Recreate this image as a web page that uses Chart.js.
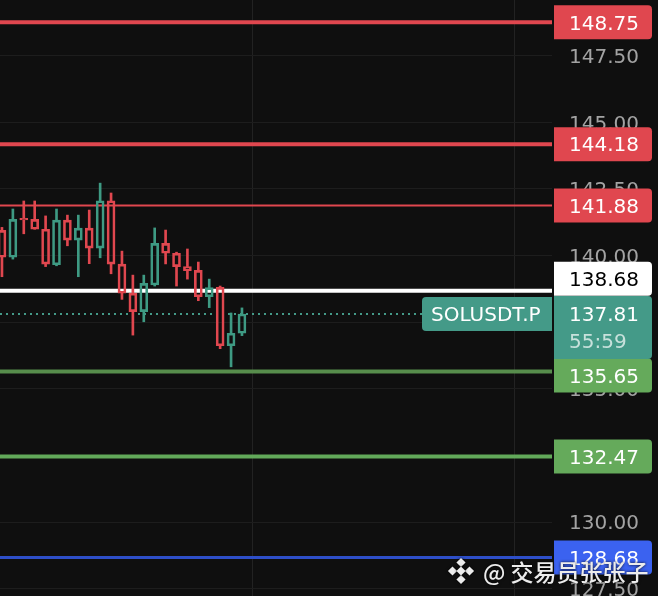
<!DOCTYPE html>
<html>
<head>
<meta charset="utf-8">
<title>SOLUSDT.P</title>
<script src="https://cdn.jsdelivr.net/npm/chart.js@4.4.1/dist/chart.umd.min.js"></script>
<style>
  html, body { margin: 0; padding: 0; background: #0f0f0f; overflow: hidden; }
  #chartBox { width: 658px; height: 596px; }
</style>
</head>
<body>
<div id="chartBox"><canvas id="priceChart" width="658" height="596"></canvas></div>
<script>
// candles, oldest first
const opens  = [140.95, 139.94, 141.40, 141.36, 140.99, 139.66, 141.33, 140.58, 141.03, 140.28, 142.06, 139.68,
                138.59, 137.90, 138.90, 140.46, 140.09, 139.59, 139.45, 138.46, 138.81, 136.62, 137.09];
const highs  = [141.06, 141.75, 142.05, 142.05, 141.49, 141.75, 141.52, 141.52, 141.71, 142.72, 142.35, 140.17,
                139.27, 139.27, 141.04, 140.96, 140.13, 140.25, 139.76, 139.12, 138.86, 137.85, 138.04];
const lows   = [139.21, 139.87, 140.82, 140.99, 139.59, 139.62, 140.37, 139.21, 139.70, 139.92, 139.32, 138.36,
                137.02, 137.52, 138.86, 139.69, 138.86, 139.12, 138.31, 138.05, 136.51, 135.83, 137.00];
const closes = [139.94, 141.36, 141.34, 140.99, 139.68, 141.33, 140.58, 141.03, 140.28, 142.06, 139.68, 138.59,
                137.90, 138.96, 140.46, 140.09, 139.59, 139.44, 138.46, 138.80, 136.62, 137.09, 137.81];

// horizontal levels drawn on the chart
const levelPrices = [148.75, 144.18, 141.88, 138.68, 135.65, 132.47, 128.68];
const lastPrice = 137.81;
const symbolName = 'SOLUSDT.P';
const countdown = '55:59';
const watermark = '@ 交易员张张子';

// time grid lines (candle index) and visible window
const gridTimes = [23, 47];
const xMin = -0.18, xMax = 50.42;
const yMin = 127.234, yMax = 149.589;
const yStep = 2.5;

// styles
const bgColor = '#0f0f0f';
const upColor = '#3e9a83';
const downColor = '#e0474f';
const lastColor = '#449a88';
const levelStyles = [
  { line: '#e0474f', width: 4, box: '#e0474f', text: '#ffffff', shift: 0 },
  { line: '#e0474f', width: 4, box: '#e0474f', text: '#ffffff', shift: 0 },
  { line: '#e0474f', width: 2, box: '#e0474f', text: '#ffffff', shift: 0 },
  { line: '#ffffff', width: 4, box: '#ffffff', text: '#000000', shift: -12 },
  { line: '#578d4c', width: 4, box: '#65aa5b', text: '#ffffff', shift: 4 },
  { line: '#62a95a', width: 4, box: '#65aa5b', text: '#ffffff', shift: 0 },
  { line: '#2e4fc9', width: 3, box: '#3b62f0', text: '#ffffff', shift: 0 }
];
const fontFamily = '"DejaVu Sans", sans-serif';

const idx = closes.map((c, i) => i);
const candleColors = idx.map(i => closes[i] >= opens[i] ? upColor : downColor);
const bodyData = idx.map(i => ({ x: i, y: [Math.min(opens[i], closes[i]), Math.max(opens[i], closes[i])] }));
const upperWick = idx.map(i => ({ x: i, y: [Math.max(opens[i], closes[i]), highs[i]] }));
const lowerWick = idx.map(i => ({ x: i, y: [lows[i], Math.min(opens[i], closes[i])] }));

const datasets = [];
levelPrices.forEach((p, k) => {
  datasets.push({
    type: 'line',
    data: [{ x: xMin, y: p }, { x: xMax, y: p }],
    borderColor: levelStyles[k].line,
    borderWidth: levelStyles[k].width,
    pointRadius: 0,
    order: 3
  });
});
datasets.push({
  type: 'line',
  data: [{ x: xMin, y: lastPrice }, { x: xMax, y: lastPrice }],
  borderColor: lastColor,
  borderWidth: 2,
  borderDash: [2, 4],
  pointRadius: 0,
  order: 3
});
datasets.push({
  type: 'bar', data: upperWick, backgroundColor: candleColors, borderWidth: 0,
  barThickness: 2, grouped: false, order: 2
});
datasets.push({
  type: 'bar', data: lowerWick, backgroundColor: candleColors, borderWidth: 0,
  barThickness: 2, grouped: false, order: 2
});
datasets.push({
  type: 'bar', data: bodyData, backgroundColor: 'rgba(0,0,0,0)', borderColor: candleColors,
  borderWidth: 2, borderSkipped: false, barThickness: 8, grouped: false, order: 1
});

function roundBox(ctx, x, y, w, h, r, color) {
  ctx.fillStyle = color;
  ctx.beginPath();
  ctx.roundRect(x, y, w, h, r);
  ctx.fill();
}

const background = {
  id: 'background',
  beforeDraw(chart) {
    const ctx = chart.ctx;
    ctx.save();
    ctx.fillStyle = bgColor;
    ctx.fillRect(0, 0, chart.width, chart.height);
    ctx.restore();
  }
};

const priceTags = {
  id: 'priceTags',
  afterDraw(chart) {
    const ctx = chart.ctx;
    const y = chart.scales.y;
    const left = chart.chartArea.right + 2;
    const textX = chart.chartArea.right + 17;
    const boxW = 98;
    ctx.save();
    ctx.font = '20px ' + fontFamily;
    ctx.textBaseline = 'middle';
    ctx.textAlign = 'left';

    levelPrices.forEach((p, k) => {
      const st = levelStyles[k];
      const cy = y.getPixelForValue(p) + st.shift;
      roundBox(ctx, left, cy - 17, boxW, 34, [0, 4, 4, 0], st.box);
      ctx.fillStyle = st.text;
      ctx.fillText(p.toFixed(2), textX, cy + 2);
    });

    // last price tag with countdown
    const py = y.getPixelForValue(lastPrice);
    roundBox(ctx, left, py - 18, boxW, 63, [0, 4, 4, 0], lastColor);
    ctx.fillStyle = '#ffffff';
    ctx.fillText(lastPrice.toFixed(2), textX, py + 2);
    ctx.fillStyle = 'rgba(255,255,255,0.7)';
    ctx.fillText(countdown, textX, py + 29);

    // symbol tag
    roundBox(ctx, chart.chartArea.right - 130, py - 17, 130, 34, [4, 0, 0, 4], lastColor);
    ctx.fillStyle = '#ffffff';
    ctx.fillText(symbolName, chart.chartArea.right - 121, py + 2);

    // watermark
    ctx.shadowColor = 'rgba(0,0,0,0.9)';
    ctx.shadowBlur = 3;
    ctx.fillStyle = '#ececec';
    const lx = 461, ly = 571, s = 4.6;
    [[0, -8.5], [-8.5, 0], [8.5, 0], [0, 8.5], [0, 0]].forEach(([dx, dy]) => {
      ctx.beginPath();
      ctx.moveTo(lx + dx, ly + dy - s);
      ctx.lineTo(lx + dx + s, ly + dy);
      ctx.lineTo(lx + dx, ly + dy + s);
      ctx.lineTo(lx + dx - s, ly + dy);
      ctx.closePath();
      ctx.fill();
    });
    ctx.font = '500 23px "Noto Sans CJK SC", sans-serif';
    ctx.fillText(watermark, 483, 572);
    ctx.restore();
  }
};

new Chart(document.getElementById('priceChart'), {
  type: 'bar',
  data: { datasets: datasets },
  options: {
    responsive: false,
    animation: false,
    devicePixelRatio: 1,
    layout: { padding: 0 },
    plugins: { legend: { display: false }, tooltip: { enabled: false } },
    scales: {
      x: {
        type: 'linear', min: xMin, max: xMax, offset: false,
        grid: { color: '#222222', drawTicks: false, offset: false },
        border: { display: false },
        ticks: { display: false },
        afterBuildTicks: s => { s.ticks = gridTimes.map(v => ({ value: v })); },
        afterFit: s => { s.height = 0; s.paddingLeft = 0; s.paddingRight = 0; s.paddingTop = 0; s.paddingBottom = 0; }
      },
      y: {
        type: 'linear', position: 'right', min: yMin, max: yMax,
        grid: { color: '#1d1d1d', drawTicks: false },
        border: { display: false },
        ticks: {
          stepSize: yStep, includeBounds: false, color: '#a3a3a3', padding: 17, labelOffset: 2,
          font: { family: fontFamily, size: 20 },
          callback: v => v.toFixed(2)
        },
        afterFit: s => { s.width = 106; s.paddingTop = 0; s.paddingBottom = 0; s.paddingLeft = 0; s.paddingRight = 0; }
      }
    }
  },
  plugins: [background, priceTags]
});
</script>
</body>
</html>
